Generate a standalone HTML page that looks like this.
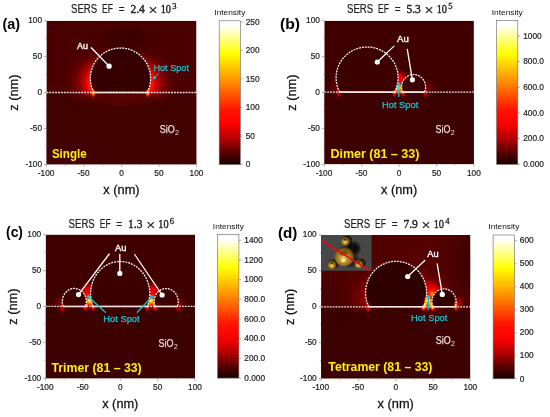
<!DOCTYPE html>
<html><head><meta charset="utf-8"><title>SERS EF FDTD</title>
<style>
html,body{margin:0;padding:0;background:#fff;}
body{width:550px;height:417px;overflow:hidden;position:relative;font-family:"Liberation Sans", "DejaVu Sans", sans-serif;}
svg{position:absolute;left:0;top:0;display:block;filter:blur(0.35px);}
text{font-family:"Liberation Sans", "DejaVu Sans", sans-serif;}
.tk{font-size:8.3px;fill:#222;stroke:#222;stroke-width:0.2px;}
.ax{font-size:13px;fill:#111;stroke:#111;stroke-width:0.28px;}
.pl{font-size:14.8px;font-weight:bold;fill:#000;}
.tt{font-size:12px;fill:#222;stroke:#222;stroke-width:0.22px;}
.tm{font-family:"Liberation Serif", "DejaVu Serif", serif;font-size:11.8px;fill:#222;stroke:#222;stroke-width:0.4px;}
.ts{font-family:"Liberation Serif", "DejaVu Serif", serif;font-size:7.8px;fill:#222;stroke:#222;stroke-width:0.3px;}
.in{font-size:8.1px;fill:#111;}
.au{font-size:9.3px;fill:#fff;stroke:#fff;stroke-width:0.35px;}
.si{font-size:10px;fill:#f0dada;stroke:#f0dada;stroke-width:0.25px;}
.s2{font-size:6.4px;fill:#f0dada;}
.hs{font-size:9.2px;fill:#14c4d0;stroke:#14c4d0;stroke-width:0.25px;}
.nm{font-size:12px;font-weight:bold;fill:#ffee00;}
</style></head><body>
<svg width="550" height="417" viewBox="0 0 550 417">
<defs>
<linearGradient id="cbg" x1="0" y1="1" x2="0" y2="0">
<stop offset="0" stop-color="#1a0000"/>
<stop offset="0.08" stop-color="#560000"/>
<stop offset="0.18" stop-color="#b40000"/>
<stop offset="0.28" stop-color="#fa0000"/>
<stop offset="0.38" stop-color="#ff1400"/>
<stop offset="0.55" stop-color="#ff7e00"/>
<stop offset="0.77" stop-color="#ffff00"/>
<stop offset="0.97" stop-color="#ffffff"/>
<stop offset="1" stop-color="#ffffff"/>
</linearGradient>
<radialGradient id="gR"><stop offset="0" stop-color="#ff2000" stop-opacity="0.95"/><stop offset="0.35" stop-color="#e00000" stop-opacity="0.6"/><stop offset="1" stop-color="#a00000" stop-opacity="0"/></radialGradient>
<radialGradient id="gR2"><stop offset="0" stop-color="#ff0800" stop-opacity="1"/><stop offset="0.5" stop-color="#f80000" stop-opacity="0.88"/><stop offset="1" stop-color="#c00000" stop-opacity="0"/></radialGradient>
<radialGradient id="gY"><stop offset="0" stop-color="#ffe000" stop-opacity="1"/><stop offset="0.4" stop-color="#ff6000" stop-opacity="0.9"/><stop offset="1" stop-color="#ff0000" stop-opacity="0"/></radialGradient>
<radialGradient id="gYY"><stop offset="0" stop-color="#ffff30" stop-opacity="1"/><stop offset="0.55" stop-color="#ffc000" stop-opacity="1"/><stop offset="1" stop-color="#ff4000" stop-opacity="0"/></radialGradient>
<radialGradient id="gD"><stop offset="0" stop-color="#7a0000" stop-opacity="0.9"/><stop offset="1" stop-color="#7a0000" stop-opacity="0"/></radialGradient>
<radialGradient id="gold" cx="0.45" cy="0.62" r="0.62"><stop offset="0" stop-color="#ffe68a"/><stop offset="0.3" stop-color="#c89a32"/><stop offset="0.7" stop-color="#7a5510"/><stop offset="1" stop-color="#2a1c04"/></radialGradient>
<radialGradient id="gold2" cx="0.46" cy="0.6" r="0.6"><stop offset="0" stop-color="#f6d878"/><stop offset="0.35" stop-color="#c09430"/><stop offset="0.75" stop-color="#865e14"/><stop offset="1" stop-color="#302006"/></radialGradient>
<filter id="b1" x="-50%" y="-50%" width="200%" height="200%"><feGaussianBlur stdDeviation="0.6"/></filter>
<filter id="b2" x="-50%" y="-50%" width="200%" height="200%"><feGaussianBlur stdDeviation="1.2"/></filter>
<filter id="b3" x="-50%" y="-50%" width="200%" height="200%"><feGaussianBlur stdDeviation="2.6"/></filter>
<filter id="b6" x="-50%" y="-50%" width="200%" height="200%"><feGaussianBlur stdDeviation="6"/></filter>
<filter id="b4" x="-50%" y="-50%" width="200%" height="200%"><feGaussianBlur stdDeviation="4"/></filter>
</defs>

<clipPath id="cpa"><rect x="46.40" y="20.70" width="150.10" height="143.80"/></clipPath>
<g clip-path="url(#cpa)">
<rect x="46.4" y="20.7" width="150.1" height="143.8" fill="#4b0000"/>
<rect x="46.4" y="92.5" width="150.1" height="72.0" fill="#420202"/>
<linearGradient id="fa" gradientUnits="userSpaceOnUse" x1="0" y1="48.02" x2="0" y2="106.98"><stop offset="0" stop-color="#000"/><stop offset="0.14" stop-color="#1c1c1c"/><stop offset="0.42" stop-color="#c4c4c4"/><stop offset="0.6" stop-color="#fff"/><stop offset="0.75" stop-color="#fff"/><stop offset="0.83" stop-color="#888"/><stop offset="1" stop-color="#000"/></linearGradient>
<mask id="ma" maskUnits="userSpaceOnUse" x="46.4" y="20.7" width="150.1" height="143.8"><rect x="46.4" y="20.7" width="150.1" height="143.8" fill="url(#fa)"/></mask>
<g mask="url(#ma)">
<path d="M93.83,92.50 A30.10,30.40 0 1 1 147.17,92.50" fill="none" stroke="#8a0000" stroke-width="34" filter="url(#b6)" opacity="1"/>
<path d="M93.83,92.50 A30.10,30.40 0 1 1 147.17,92.50" fill="none" stroke="#d40000" stroke-width="18" filter="url(#b3)" opacity="1"/>
<path d="M93.83,92.50 A30.10,30.40 0 1 1 147.17,92.50" fill="none" stroke="#ff1800" stroke-width="7.5" filter="url(#b2)"/>
</g>
<ellipse cx="121.45" cy="99.07" rx="46.00" ry="9.00" fill="url(#gD)" opacity="0.5" />
<path d="M93.83,92.50 A30.10,30.40 0 1 1 147.17,92.50 Z" fill="#360000"/>
<ellipse cx="125.95" cy="37.96" rx="22.00" ry="11.00" fill="#360000" opacity="0.7" filter="url(#b4)"/>
<ellipse cx="93.23" cy="93.10" rx="2.80" ry="5.00" fill="url(#gY)" opacity="1" />
<ellipse cx="147.77" cy="93.10" rx="2.80" ry="5.00" fill="url(#gY)" opacity="1" />
<line x1="46.40" y1="92.50" x2="196.50" y2="92.50" stroke="#f6e4e4" stroke-width="1.3" stroke-dasharray="1.9 1.0"/>
<line x1="93.83" y1="92.50" x2="147.17" y2="92.50" stroke="#f6e4e4" stroke-width="1.55"/>
<path d="M93.83,92.50 A30.10,30.40 0 1 1 147.17,92.50" fill="none" stroke="#fff" stroke-width="1.25" stroke-dasharray="1.9 1.0"/>
</g>
<line x1="109.10" y1="66.20" x2="91.30" y2="47.80" stroke="#fff" stroke-width="1.3" stroke-linecap="round"/>
<circle cx="109.10" cy="66.20" r="2.6" fill="#fff"/>
<text class="au" x="77.00" y="49.00" textLength="11.00" lengthAdjust="spacingAndGlyphs" >Au</text>
<text class="hs" x="153.40" y="70.80" textLength="35.60" lengthAdjust="spacingAndGlyphs" >Hot Spot</text>
<line x1="158.80" y1="73.60" x2="154.80" y2="77.40" stroke="#14c4d0" stroke-width="1.0" stroke-linecap="round"/>
<circle cx="154.40" cy="77.80" r="1.5" fill="#14c4d0"/>
<text><tspan class="si" x="159.80" y="132.50" textLength="14.9" lengthAdjust="spacingAndGlyphs">SiO</tspan><tspan class="s2" x="175.10" y="134.60" textLength="4.0" lengthAdjust="spacingAndGlyphs">2</tspan></text>
<text class="nm" x="51.90" y="158.30" textLength="34.70" lengthAdjust="spacingAndGlyphs" >Single</text>
<line x1="46.40" y1="164.50" x2="46.40" y2="166.80" stroke="#7a8796" stroke-width="0.7"/>
<text class="tk" x="46.10" y="176.20" text-anchor="middle" >-100</text>
<line x1="44.10" y1="164.50" x2="46.40" y2="164.50" stroke="#7a8796" stroke-width="0.7"/>
<text class="tk" x="42.00" y="166.70" text-anchor="end" >-100</text>
<line x1="83.92" y1="164.50" x2="83.92" y2="166.80" stroke="#7a8796" stroke-width="0.7"/>
<text class="tk" x="83.62" y="176.20" text-anchor="middle" >-50</text>
<line x1="44.10" y1="128.55" x2="46.40" y2="128.55" stroke="#7a8796" stroke-width="0.7"/>
<text class="tk" x="42.00" y="130.75" text-anchor="end" >-50</text>
<line x1="121.45" y1="164.50" x2="121.45" y2="166.80" stroke="#7a8796" stroke-width="0.7"/>
<text class="tk" x="121.45" y="176.20" text-anchor="middle" >0</text>
<line x1="44.10" y1="92.60" x2="46.40" y2="92.60" stroke="#7a8796" stroke-width="0.7"/>
<text class="tk" x="42.00" y="94.80" text-anchor="end" >0</text>
<line x1="158.97" y1="164.50" x2="158.97" y2="166.80" stroke="#7a8796" stroke-width="0.7"/>
<text class="tk" x="158.97" y="176.20" text-anchor="middle" >50</text>
<line x1="44.10" y1="56.65" x2="46.40" y2="56.65" stroke="#7a8796" stroke-width="0.7"/>
<text class="tk" x="42.00" y="58.85" text-anchor="end" >50</text>
<line x1="196.50" y1="164.50" x2="196.50" y2="166.80" stroke="#7a8796" stroke-width="0.7"/>
<text class="tk" x="196.50" y="176.20" text-anchor="middle" >100</text>
<line x1="44.10" y1="20.70" x2="46.40" y2="20.70" stroke="#7a8796" stroke-width="0.7"/>
<text class="tk" x="42.00" y="22.90" text-anchor="end" >100</text>
<line x1="65.16" y1="164.50" x2="65.16" y2="165.80" stroke="#7a8796" stroke-width="0.6"/>
<line x1="45.10" y1="146.53" x2="46.40" y2="146.53" stroke="#7a8796" stroke-width="0.6"/>
<line x1="102.69" y1="164.50" x2="102.69" y2="165.80" stroke="#7a8796" stroke-width="0.6"/>
<line x1="45.10" y1="110.57" x2="46.40" y2="110.57" stroke="#7a8796" stroke-width="0.6"/>
<line x1="140.21" y1="164.50" x2="140.21" y2="165.80" stroke="#7a8796" stroke-width="0.6"/>
<line x1="45.10" y1="74.62" x2="46.40" y2="74.62" stroke="#7a8796" stroke-width="0.6"/>
<line x1="177.74" y1="164.50" x2="177.74" y2="165.80" stroke="#7a8796" stroke-width="0.6"/>
<line x1="45.10" y1="38.67" x2="46.40" y2="38.67" stroke="#7a8796" stroke-width="0.6"/>
<text class="ax" x="103.35" y="193.70" textLength="36.20" lengthAdjust="spacingAndGlyphs" >x (nm)</text>
<text class="ax" transform="translate(18.40,110.80) rotate(-90)" textLength="36.2" lengthAdjust="spacingAndGlyphs">z (nm)</text>
<text class="pl" x="2.40" y="29.00" textLength="17.60" lengthAdjust="spacingAndGlyphs" >(a)</text>
<text><tspan class="tt" x="71.00" y="13.10" textLength="26.20" lengthAdjust="spacingAndGlyphs" >SERS</tspan> <tspan class="tt" x="102.10" y="13.10" textLength="10.90" lengthAdjust="spacingAndGlyphs" >EF</tspan> <tspan class="tt" x="118.70" y="13.10" textLength="5.80" lengthAdjust="spacingAndGlyphs" >=</tspan> <tspan class="tm" x="130.40" y="13.10" textLength="14.40" lengthAdjust="spacingAndGlyphs" >2.4</tspan> <tspan class="tm" x="148.60" y="14.70" textLength="9.00" lengthAdjust="spacingAndGlyphs" style="font-size:15.5px">×</tspan> <tspan class="tm" x="160.70" y="13.10" textLength="10.30" lengthAdjust="spacingAndGlyphs" >10</tspan><tspan class="ts" x="172.20" y="8.60" textLength="4.30" lengthAdjust="spacingAndGlyphs" >3</tspan></text>
<rect x="219.20" y="20.80" width="21.10" height="143.70" fill="url(#cbg)" stroke="#666" stroke-width="0.6"/>
<text class="in" x="214.35" y="14.90" textLength="31.00" lengthAdjust="spacingAndGlyphs" >Intensity</text>
<line x1="240.30" y1="21.94" x2="242.60" y2="21.94" stroke="#7a8796" stroke-width="0.7"/>
<text class="tk" x="245.70" y="24.64" >250</text>
<line x1="240.30" y1="50.45" x2="242.60" y2="50.45" stroke="#7a8796" stroke-width="0.7"/>
<text class="tk" x="245.70" y="53.15" >200</text>
<line x1="240.30" y1="78.96" x2="242.60" y2="78.96" stroke="#7a8796" stroke-width="0.7"/>
<text class="tk" x="245.70" y="81.66" >150</text>
<line x1="240.30" y1="107.48" x2="242.60" y2="107.48" stroke="#7a8796" stroke-width="0.7"/>
<text class="tk" x="245.70" y="110.18" >100</text>
<line x1="240.30" y1="135.99" x2="242.60" y2="135.99" stroke="#7a8796" stroke-width="0.7"/>
<text class="tk" x="245.70" y="138.69" >50</text>
<line x1="240.30" y1="164.50" x2="242.60" y2="164.50" stroke="#7a8796" stroke-width="0.7"/>
<text class="tk" x="245.70" y="167.20" >0</text>
<clipPath id="cpb"><rect x="324.30" y="20.70" width="149.60" height="143.60"/></clipPath>
<g clip-path="url(#cpb)">
<rect x="324.3" y="20.7" width="149.59999999999997" height="143.60000000000002" fill="#400000"/>
<rect x="324.3" y="92.1" width="149.59999999999997" height="72.20000000000002" fill="#3c0202"/>
<ellipse cx="338.84" cy="91.30" rx="3.20" ry="7.00" fill="url(#gR2)" opacity="0.8" />
<ellipse cx="425.29" cy="91.30" rx="3.20" ry="7.00" fill="url(#gR2)" opacity="0.8" />
<ellipse cx="428.49" cy="87.10" rx="8.00" ry="10.00" fill="url(#gD)" opacity="0.8" />
<ellipse cx="335.64" cy="87.10" rx="8.00" ry="10.00" fill="url(#gD)" opacity="0.6" />
<ellipse cx="399.83" cy="82.61" rx="9.00" ry="13.93" fill="url(#gR2)" opacity="1" />
<ellipse cx="398.83" cy="87.60" rx="6.50" ry="8.00" fill="url(#gR2)" opacity="1" />
<path d="M339.64,92.10 A31.00,30.80 0 1 1 394.56,92.10 Z" fill="#3c0000"/>
<path d="M402.71,92.10 A12.00,12.40 0 1 1 424.49,92.10 Z" fill="#3c0000"/>
<ellipse cx="394.26" cy="93.30" rx="2.80" ry="4.00" fill="url(#gR2)" opacity="0.85" />
<ellipse cx="403.01" cy="93.30" rx="2.80" ry="4.00" fill="url(#gR2)" opacity="0.85" />
<ellipse cx="398.83" cy="88.00" rx="4.00" ry="6.20" fill="url(#gY)" opacity="1" />
<path d="M398.83,87.00 L394.76,92.90 M398.83,87.00 L402.51,92.90" stroke="#ff7000" stroke-width="2.0" fill="none" stroke-linecap="round" filter="url(#b1)"/>
<ellipse cx="398.83" cy="87.80" rx="3.00" ry="3.40" fill="url(#gYY)" opacity="1" />
<line x1="324.30" y1="92.10" x2="473.90" y2="92.10" stroke="#f6e4e4" stroke-width="1.3" stroke-dasharray="1.9 1.0"/>
<line x1="339.64" y1="92.10" x2="394.56" y2="92.10" stroke="#f6e4e4" stroke-width="1.55"/>
<line x1="402.71" y1="92.10" x2="424.49" y2="92.10" stroke="#f6e4e4" stroke-width="1.55"/>
<path d="M339.64,92.10 A31.00,30.80 0 1 1 394.56,92.10" fill="none" stroke="#fff" stroke-width="1.25" stroke-dasharray="1.9 1.0"/>
<path d="M402.71,92.10 A12.00,12.40 0 1 1 424.49,92.10" fill="none" stroke="#fff" stroke-width="1.25" stroke-dasharray="1.9 1.0"/>
</g>
<line x1="377.30" y1="62.00" x2="394.00" y2="46.10" stroke="#fff" stroke-width="1.3" stroke-linecap="round"/>
<circle cx="377.30" cy="62.00" r="2.6" fill="#fff"/>
<line x1="412.40" y1="79.80" x2="407.30" y2="49.30" stroke="#fff" stroke-width="1.3" stroke-linecap="round"/>
<circle cx="412.40" cy="79.80" r="2.6" fill="#fff"/>
<text class="au" x="397.00" y="42.00" textLength="11.80" lengthAdjust="spacingAndGlyphs" >Au</text>
<line x1="398.80" y1="84.40" x2="398.80" y2="96.40" stroke="#14c4d0" stroke-width="1.3" stroke-linecap="round"/>
<circle cx="398.80" cy="84.40" r="1.8" fill="#14c4d0"/>
<text class="hs" x="382.00" y="107.50" textLength="36.30" lengthAdjust="spacingAndGlyphs" >Hot Spot</text>
<text><tspan class="si" x="435.50" y="132.50" textLength="14.9" lengthAdjust="spacingAndGlyphs">SiO</tspan><tspan class="s2" x="450.80" y="134.60" textLength="4.0" lengthAdjust="spacingAndGlyphs">2</tspan></text>
<text class="nm" x="330.40" y="158.00" textLength="89.00" lengthAdjust="spacingAndGlyphs" >Dimer (81 – 33)</text>
<line x1="324.30" y1="164.30" x2="324.30" y2="166.60" stroke="#7a8796" stroke-width="0.7"/>
<text class="tk" x="324.00" y="176.00" text-anchor="middle" >-100</text>
<line x1="322.00" y1="164.30" x2="324.30" y2="164.30" stroke="#7a8796" stroke-width="0.7"/>
<text class="tk" x="319.90" y="166.50" text-anchor="end" >-100</text>
<line x1="361.70" y1="164.30" x2="361.70" y2="166.60" stroke="#7a8796" stroke-width="0.7"/>
<text class="tk" x="361.40" y="176.00" text-anchor="middle" >-50</text>
<line x1="322.00" y1="128.40" x2="324.30" y2="128.40" stroke="#7a8796" stroke-width="0.7"/>
<text class="tk" x="319.90" y="130.60" text-anchor="end" >-50</text>
<line x1="399.10" y1="164.30" x2="399.10" y2="166.60" stroke="#7a8796" stroke-width="0.7"/>
<text class="tk" x="399.10" y="176.00" text-anchor="middle" >0</text>
<line x1="322.00" y1="92.50" x2="324.30" y2="92.50" stroke="#7a8796" stroke-width="0.7"/>
<text class="tk" x="319.90" y="94.70" text-anchor="end" >0</text>
<line x1="436.50" y1="164.30" x2="436.50" y2="166.60" stroke="#7a8796" stroke-width="0.7"/>
<text class="tk" x="436.50" y="176.00" text-anchor="middle" >50</text>
<line x1="322.00" y1="56.60" x2="324.30" y2="56.60" stroke="#7a8796" stroke-width="0.7"/>
<text class="tk" x="319.90" y="58.80" text-anchor="end" >50</text>
<line x1="473.90" y1="164.30" x2="473.90" y2="166.60" stroke="#7a8796" stroke-width="0.7"/>
<text class="tk" x="473.90" y="176.00" text-anchor="middle" >100</text>
<line x1="322.00" y1="20.70" x2="324.30" y2="20.70" stroke="#7a8796" stroke-width="0.7"/>
<text class="tk" x="319.90" y="22.90" text-anchor="end" >100</text>
<line x1="343.00" y1="164.30" x2="343.00" y2="165.60" stroke="#7a8796" stroke-width="0.6"/>
<line x1="323.00" y1="146.35" x2="324.30" y2="146.35" stroke="#7a8796" stroke-width="0.6"/>
<line x1="380.40" y1="164.30" x2="380.40" y2="165.60" stroke="#7a8796" stroke-width="0.6"/>
<line x1="323.00" y1="110.45" x2="324.30" y2="110.45" stroke="#7a8796" stroke-width="0.6"/>
<line x1="417.80" y1="164.30" x2="417.80" y2="165.60" stroke="#7a8796" stroke-width="0.6"/>
<line x1="323.00" y1="74.55" x2="324.30" y2="74.55" stroke="#7a8796" stroke-width="0.6"/>
<line x1="455.20" y1="164.30" x2="455.20" y2="165.60" stroke="#7a8796" stroke-width="0.6"/>
<line x1="323.00" y1="38.65" x2="324.30" y2="38.65" stroke="#7a8796" stroke-width="0.6"/>
<text class="ax" x="381.00" y="193.50" textLength="36.20" lengthAdjust="spacingAndGlyphs" >x (nm)</text>
<text class="ax" transform="translate(295.90,110.70) rotate(-90)" textLength="36.2" lengthAdjust="spacingAndGlyphs">z (nm)</text>
<text class="pl" x="280.00" y="28.60" textLength="20.00" lengthAdjust="spacingAndGlyphs" >(b)</text>
<text><tspan class="tt" x="347.00" y="13.40" textLength="26.20" lengthAdjust="spacingAndGlyphs" >SERS</tspan> <tspan class="tt" x="378.10" y="13.40" textLength="10.90" lengthAdjust="spacingAndGlyphs" >EF</tspan> <tspan class="tt" x="394.70" y="13.40" textLength="5.80" lengthAdjust="spacingAndGlyphs" >=</tspan> <tspan class="tm" x="406.40" y="13.40" textLength="14.40" lengthAdjust="spacingAndGlyphs" >5.3</tspan> <tspan class="tm" x="424.60" y="15.00" textLength="9.00" lengthAdjust="spacingAndGlyphs" style="font-size:15.5px">×</tspan> <tspan class="tm" x="436.70" y="13.40" textLength="10.30" lengthAdjust="spacingAndGlyphs" >10</tspan><tspan class="ts" x="448.20" y="8.90" textLength="4.30" lengthAdjust="spacingAndGlyphs" >5</tspan></text>
<rect x="496.60" y="20.50" width="21.20" height="143.80" fill="url(#cbg)" stroke="#666" stroke-width="0.6"/>
<text class="in" x="491.80" y="14.60" textLength="31.00" lengthAdjust="spacingAndGlyphs" >Intensity</text>
<line x1="517.80" y1="35.91" x2="520.10" y2="35.91" stroke="#7a8796" stroke-width="0.7"/>
<text class="tk" x="523.20" y="38.61" >1000</text>
<line x1="517.80" y1="61.59" x2="520.10" y2="61.59" stroke="#7a8796" stroke-width="0.7"/>
<text class="tk" x="523.20" y="64.29" >800.0</text>
<line x1="517.80" y1="87.26" x2="520.10" y2="87.26" stroke="#7a8796" stroke-width="0.7"/>
<text class="tk" x="523.20" y="89.96" >600.0</text>
<line x1="517.80" y1="112.94" x2="520.10" y2="112.94" stroke="#7a8796" stroke-width="0.7"/>
<text class="tk" x="523.20" y="115.64" >400.0</text>
<line x1="517.80" y1="138.62" x2="520.10" y2="138.62" stroke="#7a8796" stroke-width="0.7"/>
<text class="tk" x="523.20" y="141.32" >200.0</text>
<line x1="517.80" y1="164.30" x2="520.10" y2="164.30" stroke="#7a8796" stroke-width="0.7"/>
<text class="tk" x="523.20" y="167.00" >0.000</text>
<clipPath id="cpc"><rect x="45.60" y="234.60" width="149.40" height="143.80"/></clipPath>
<g clip-path="url(#cpc)">
<rect x="45.6" y="234.6" width="149.4" height="143.79999999999998" fill="#400000"/>
<rect x="45.6" y="306.4" width="149.4" height="72.0" fill="#3c0202"/>
<ellipse cx="62.22" cy="305.40" rx="3.80" ry="8.50" fill="url(#gR2)" opacity="0.75" />
<ellipse cx="178.37" cy="305.40" rx="3.80" ry="8.00" fill="url(#gR2)" opacity="0.75" />
<ellipse cx="59.22" cy="303.40" rx="7.00" ry="9.00" fill="url(#gD)" opacity="0.7" />
<ellipse cx="181.37" cy="303.40" rx="7.00" ry="9.00" fill="url(#gD)" opacity="0.7" />
<ellipse cx="87.74" cy="295.87" rx="9.00" ry="15.44" fill="url(#gR2)" opacity="1" />
<ellipse cx="89.24" cy="301.90" rx="6.50" ry="8.00" fill="url(#gR2)" opacity="1" />
<ellipse cx="152.72" cy="295.87" rx="9.00" ry="15.44" fill="url(#gR2)" opacity="1" />
<ellipse cx="151.22" cy="301.90" rx="6.50" ry="8.00" fill="url(#gR2)" opacity="1" />
<path d="M93.00,306.40 A29.60,32.20 0 1 1 147.40,306.40 Z" fill="#3c0000"/>
<path d="M63.22,306.40 A12.00,13.10 0 1 1 85.48,306.40 Z" fill="#3c0000"/>
<path d="M155.03,306.40 A12.00,13.10 0 1 1 177.37,306.40 Z" fill="#3c0000"/>
<ellipse cx="85.18" cy="307.60" rx="2.80" ry="4.00" fill="url(#gR2)" opacity="0.85" />
<ellipse cx="93.30" cy="307.60" rx="2.80" ry="4.00" fill="url(#gR2)" opacity="0.85" />
<ellipse cx="89.24" cy="300.90" rx="4.00" ry="6.20" fill="url(#gY)" opacity="1" />
<path d="M89.24,299.90 L85.68,307.20 M89.24,299.90 L92.80,307.20" stroke="#ff7000" stroke-width="2.0" fill="none" stroke-linecap="round" filter="url(#b1)"/>
<ellipse cx="89.24" cy="300.70" rx="3.00" ry="3.40" fill="url(#gYY)" opacity="1" />
<ellipse cx="147.10" cy="307.60" rx="2.80" ry="4.00" fill="url(#gR2)" opacity="0.85" />
<ellipse cx="155.33" cy="307.60" rx="2.80" ry="4.00" fill="url(#gR2)" opacity="0.85" />
<ellipse cx="151.22" cy="300.90" rx="4.00" ry="6.20" fill="url(#gY)" opacity="1" />
<path d="M151.22,299.90 L147.60,307.20 M151.22,299.90 L154.83,307.20" stroke="#ff7000" stroke-width="2.0" fill="none" stroke-linecap="round" filter="url(#b1)"/>
<ellipse cx="151.22" cy="300.70" rx="3.00" ry="3.40" fill="url(#gYY)" opacity="1" />
<line x1="45.60" y1="306.40" x2="195.00" y2="306.40" stroke="#f6e4e4" stroke-width="1.3" stroke-dasharray="1.9 1.0"/>
<line x1="93.00" y1="306.40" x2="147.40" y2="306.40" stroke="#f6e4e4" stroke-width="1.55"/>
<line x1="63.22" y1="306.40" x2="85.48" y2="306.40" stroke="#f6e4e4" stroke-width="1.55"/>
<line x1="155.03" y1="306.40" x2="177.37" y2="306.40" stroke="#f6e4e4" stroke-width="1.55"/>
<path d="M93.00,306.40 A29.60,32.20 0 1 1 147.40,306.40" fill="none" stroke="#fff" stroke-width="1.25" stroke-dasharray="1.9 1.0"/>
<path d="M63.22,306.40 A12.00,13.10 0 1 1 85.48,306.40" fill="none" stroke="#fff" stroke-width="1.25" stroke-dasharray="1.9 1.0"/>
<path d="M155.03,306.40 A12.00,13.10 0 1 1 177.37,306.40" fill="none" stroke="#fff" stroke-width="1.25" stroke-dasharray="1.9 1.0"/>
</g>
<line x1="78.50" y1="294.60" x2="109.20" y2="254.00" stroke="#fff" stroke-width="1.3" stroke-linecap="round"/>
<circle cx="78.50" cy="294.60" r="2.6" fill="#fff"/>
<line x1="162.10" y1="295.00" x2="134.70" y2="254.50" stroke="#fff" stroke-width="1.3" stroke-linecap="round"/>
<circle cx="162.10" cy="295.00" r="2.6" fill="#fff"/>
<line x1="119.80" y1="273.40" x2="119.80" y2="254.50" stroke="#fff" stroke-width="1.3" stroke-linecap="round"/>
<circle cx="119.80" cy="273.40" r="2.6" fill="#fff"/>
<text class="au" x="115.00" y="250.50" textLength="11.40" lengthAdjust="spacingAndGlyphs" >Au</text>
<line x1="88.70" y1="296.90" x2="105.30" y2="312.20" stroke="#14c4d0" stroke-width="1.3" stroke-linecap="round"/>
<circle cx="88.70" cy="296.90" r="1.8" fill="#14c4d0"/>
<line x1="151.90" y1="296.90" x2="137.30" y2="312.20" stroke="#14c4d0" stroke-width="1.3" stroke-linecap="round"/>
<circle cx="151.90" cy="296.90" r="1.8" fill="#14c4d0"/>
<text class="hs" x="103.20" y="322.40" textLength="36.50" lengthAdjust="spacingAndGlyphs" >Hot Spot</text>
<text><tspan class="si" x="158.50" y="347.30" textLength="14.9" lengthAdjust="spacingAndGlyphs">SiO</tspan><tspan class="s2" x="173.80" y="349.40" textLength="4.0" lengthAdjust="spacingAndGlyphs">2</tspan></text>
<text class="nm" x="51.50" y="371.80" textLength="90.20" lengthAdjust="spacingAndGlyphs" >Trimer (81 – 33)</text>
<line x1="45.60" y1="378.40" x2="45.60" y2="380.70" stroke="#7a8796" stroke-width="0.7"/>
<text class="tk" x="45.30" y="390.10" text-anchor="middle" >-100</text>
<line x1="43.30" y1="378.40" x2="45.60" y2="378.40" stroke="#7a8796" stroke-width="0.7"/>
<text class="tk" x="41.20" y="380.60" text-anchor="end" >-100</text>
<line x1="82.95" y1="378.40" x2="82.95" y2="380.70" stroke="#7a8796" stroke-width="0.7"/>
<text class="tk" x="82.65" y="390.10" text-anchor="middle" >-50</text>
<line x1="43.30" y1="342.45" x2="45.60" y2="342.45" stroke="#7a8796" stroke-width="0.7"/>
<text class="tk" x="41.20" y="344.65" text-anchor="end" >-50</text>
<line x1="120.30" y1="378.40" x2="120.30" y2="380.70" stroke="#7a8796" stroke-width="0.7"/>
<text class="tk" x="120.30" y="390.10" text-anchor="middle" >0</text>
<line x1="43.30" y1="306.50" x2="45.60" y2="306.50" stroke="#7a8796" stroke-width="0.7"/>
<text class="tk" x="41.20" y="308.70" text-anchor="end" >0</text>
<line x1="157.65" y1="378.40" x2="157.65" y2="380.70" stroke="#7a8796" stroke-width="0.7"/>
<text class="tk" x="157.65" y="390.10" text-anchor="middle" >50</text>
<line x1="43.30" y1="270.55" x2="45.60" y2="270.55" stroke="#7a8796" stroke-width="0.7"/>
<text class="tk" x="41.20" y="272.75" text-anchor="end" >50</text>
<line x1="195.00" y1="378.40" x2="195.00" y2="380.70" stroke="#7a8796" stroke-width="0.7"/>
<text class="tk" x="195.00" y="390.10" text-anchor="middle" >100</text>
<line x1="43.30" y1="234.60" x2="45.60" y2="234.60" stroke="#7a8796" stroke-width="0.7"/>
<text class="tk" x="41.20" y="236.80" text-anchor="end" >100</text>
<line x1="64.28" y1="378.40" x2="64.28" y2="379.70" stroke="#7a8796" stroke-width="0.6"/>
<line x1="44.30" y1="360.42" x2="45.60" y2="360.42" stroke="#7a8796" stroke-width="0.6"/>
<line x1="101.62" y1="378.40" x2="101.62" y2="379.70" stroke="#7a8796" stroke-width="0.6"/>
<line x1="44.30" y1="324.47" x2="45.60" y2="324.47" stroke="#7a8796" stroke-width="0.6"/>
<line x1="138.97" y1="378.40" x2="138.97" y2="379.70" stroke="#7a8796" stroke-width="0.6"/>
<line x1="44.30" y1="288.52" x2="45.60" y2="288.52" stroke="#7a8796" stroke-width="0.6"/>
<line x1="176.32" y1="378.40" x2="176.32" y2="379.70" stroke="#7a8796" stroke-width="0.6"/>
<line x1="44.30" y1="252.57" x2="45.60" y2="252.57" stroke="#7a8796" stroke-width="0.6"/>
<text class="ax" x="102.20" y="407.60" textLength="36.20" lengthAdjust="spacingAndGlyphs" >x (nm)</text>
<text class="ax" transform="translate(17.40,324.70) rotate(-90)" textLength="36.2" lengthAdjust="spacingAndGlyphs">z (nm)</text>
<text class="pl" x="6.00" y="237.00" textLength="17.00" lengthAdjust="spacingAndGlyphs" >(c)</text>
<text><tspan class="tt" x="68.60" y="228.40" textLength="26.20" lengthAdjust="spacingAndGlyphs" >SERS</tspan> <tspan class="tt" x="99.70" y="228.40" textLength="10.90" lengthAdjust="spacingAndGlyphs" >EF</tspan> <tspan class="tt" x="116.30" y="228.40" textLength="5.80" lengthAdjust="spacingAndGlyphs" >=</tspan> <tspan class="tm" x="128.00" y="228.40" textLength="14.40" lengthAdjust="spacingAndGlyphs" >1.3</tspan> <tspan class="tm" x="146.20" y="230.00" textLength="9.00" lengthAdjust="spacingAndGlyphs" style="font-size:15.5px">×</tspan> <tspan class="tm" x="158.30" y="228.40" textLength="10.30" lengthAdjust="spacingAndGlyphs" >10</tspan><tspan class="ts" x="169.80" y="223.90" textLength="4.30" lengthAdjust="spacingAndGlyphs" >6</tspan></text>
<rect x="217.60" y="234.60" width="21.30" height="143.50" fill="url(#cbg)" stroke="#666" stroke-width="0.6"/>
<text class="in" x="212.85" y="228.70" textLength="31.00" lengthAdjust="spacingAndGlyphs" >Intensity</text>
<line x1="238.90" y1="240.31" x2="241.20" y2="240.31" stroke="#7a8796" stroke-width="0.7"/>
<text class="tk" x="244.30" y="243.01" >1400</text>
<line x1="238.90" y1="259.99" x2="241.20" y2="259.99" stroke="#7a8796" stroke-width="0.7"/>
<text class="tk" x="244.30" y="262.69" >1200</text>
<line x1="238.90" y1="279.68" x2="241.20" y2="279.68" stroke="#7a8796" stroke-width="0.7"/>
<text class="tk" x="244.30" y="282.38" >1000</text>
<line x1="238.90" y1="299.36" x2="241.20" y2="299.36" stroke="#7a8796" stroke-width="0.7"/>
<text class="tk" x="244.30" y="302.06" >800.0</text>
<line x1="238.90" y1="319.05" x2="241.20" y2="319.05" stroke="#7a8796" stroke-width="0.7"/>
<text class="tk" x="244.30" y="321.75" >600.0</text>
<line x1="238.90" y1="338.73" x2="241.20" y2="338.73" stroke="#7a8796" stroke-width="0.7"/>
<text class="tk" x="244.30" y="341.43" >400.0</text>
<line x1="238.90" y1="358.42" x2="241.20" y2="358.42" stroke="#7a8796" stroke-width="0.7"/>
<text class="tk" x="244.30" y="361.12" >200.0</text>
<line x1="238.90" y1="378.10" x2="241.20" y2="378.10" stroke="#7a8796" stroke-width="0.7"/>
<text class="tk" x="244.30" y="380.80" >0.000</text>
<clipPath id="cpd"><rect x="321.10" y="234.90" width="149.20" height="143.70"/></clipPath>
<g clip-path="url(#cpd)">
<rect x="321.1" y="234.9" width="149.2" height="143.70000000000002" fill="#4f0000"/>
<rect x="321.1" y="306.8" width="149.2" height="71.80000000000001" fill="#3c0101"/>
<linearGradient id="fd" gradientUnits="userSpaceOnUse" x1="0" y1="261.80" x2="0" y2="320.80"><stop offset="0" stop-color="#000"/><stop offset="0.2" stop-color="#2a2a2a"/><stop offset="0.5" stop-color="#c4c4c4"/><stop offset="0.7" stop-color="#fff"/><stop offset="0.78" stop-color="#fff"/><stop offset="0.86" stop-color="#777"/><stop offset="1" stop-color="#000"/></linearGradient>
<mask id="md" maskUnits="userSpaceOnUse" x="321.1" y="234.9" width="149.2" height="143.70000000000002"><rect x="321.1" y="234.9" width="149.2" height="143.70000000000002" fill="url(#fd)"/></mask>
<clipPath id="cdr"><rect x="396" y="234.9" width="80" height="143.70000000000002"/></clipPath>
<g mask="url(#md)">
<path d="M368.71,306.80 A30.50,31.60 0 1 1 423.49,306.80" fill="none" stroke="#780000" stroke-width="30" filter="url(#b6)" opacity="0.9"/>
<path d="M368.71,306.80 A30.50,31.60 0 1 1 423.49,306.80" fill="none" stroke="#a00000" stroke-width="9" filter="url(#b3)" opacity="0.8"/>
<g clip-path="url(#cdr)"><path d="M368.71,306.80 A30.50,31.60 0 1 1 423.49,306.80" fill="none" stroke="#e00000" stroke-width="12" filter="url(#b3)"/><path d="M368.71,306.80 A30.50,31.60 0 1 1 423.49,306.80" fill="none" stroke="#ff1000" stroke-width="5" filter="url(#b2)"/></g>
</g>
<ellipse cx="434.49" cy="292.38" rx="20.00" ry="24.00" fill="url(#gD)" opacity="0.8" />
<ellipse cx="418.00" cy="258.00" rx="22.00" ry="20.00" fill="#5c0000" opacity="0.55" filter="url(#b6)"/>
<ellipse cx="476.00" cy="262.00" rx="16.00" ry="34.00" fill="#380000" opacity="0.7" filter="url(#b6)"/>
<ellipse cx="330.00" cy="300.00" rx="14.00" ry="20.00" fill="#420000" opacity="0.5" filter="url(#b6)"/>
<ellipse cx="430.64" cy="295.19" rx="13.50" ry="17.03" fill="url(#gR2)" opacity="1" />
<ellipse cx="428.14" cy="302.30" rx="9.75" ry="8.00" fill="url(#gR2)" opacity="1" />
<ellipse cx="432.00" cy="294.00" rx="5.00" ry="6.00" fill="url(#gY)" opacity="0.8" />
<path d="M368.71,306.80 A30.50,31.60 0 1 1 423.49,306.80 Z" fill="#2e0000"/>
<path d="M432.78,306.80 A12.15,13.00 0 1 1 455.22,306.80 Z" fill="#300000"/>
<ellipse cx="368.21" cy="307.30" rx="2.60" ry="6.00" fill="url(#gR2)" opacity="0.9" />
<ellipse cx="456.02" cy="305.80" rx="3.00" ry="6.50" fill="url(#gY)" opacity="0.9" />
<ellipse cx="459.22" cy="302.80" rx="7.00" ry="10.00" fill="url(#gR)" opacity="0.6" />
<ellipse cx="423.19" cy="308.00" rx="2.80" ry="4.00" fill="url(#gR2)" opacity="0.85" />
<ellipse cx="433.08" cy="308.00" rx="2.80" ry="4.00" fill="url(#gR2)" opacity="0.85" />
<ellipse cx="428.14" cy="300.80" rx="5.20" ry="6.20" fill="url(#gY)" opacity="1" />
<path d="M428.14,299.80 L423.69,307.60 M428.14,299.80 L432.58,307.60" stroke="#ff5000" stroke-width="3.8" fill="none" stroke-linecap="round" filter="url(#b1)"/>
<path d="M428.14,299.80 L423.69,307.60 M428.14,299.80 L432.58,307.60" stroke="#ffd000" stroke-width="2.0" fill="none" stroke-linecap="round" filter="url(#b1)"/>
<ellipse cx="428.14" cy="300.60" rx="3.90" ry="3.40" fill="url(#gYY)" opacity="1" />
<line x1="321.10" y1="306.80" x2="470.30" y2="306.80" stroke="#f6e4e4" stroke-width="1.3" stroke-dasharray="1.9 1.0"/>
<line x1="368.71" y1="306.80" x2="423.49" y2="306.80" stroke="#f6e4e4" stroke-width="1.55"/>
<line x1="432.78" y1="306.80" x2="455.22" y2="306.80" stroke="#f6e4e4" stroke-width="1.55"/>
<path d="M368.71,306.80 A30.50,31.60 0 1 1 423.49,306.80" fill="none" stroke="#fff" stroke-width="1.25" stroke-dasharray="1.9 1.0"/>
<path d="M432.78,306.80 A12.15,13.00 0 1 1 455.22,306.80" fill="none" stroke="#fff" stroke-width="1.25" stroke-dasharray="1.9 1.0"/>
<rect x="321.1" y="234.9" width="50.5" height="35.900000000000006" fill="#474747"/>
<ellipse cx="352.80" cy="248.40" rx="7.00" ry="6.50" fill="#080808" opacity="1" filter="url(#b2)"/>
<ellipse cx="350.50" cy="259.50" rx="7.50" ry="7.50" fill="#1a1a1a" opacity="0.8" filter="url(#b2)"/>
<ellipse cx="347.70" cy="240.10" rx="4.50" ry="4.50" fill="#141414" opacity="0.85" filter="url(#b1)"/>
<ellipse cx="345.50" cy="240.90" rx="4.50" ry="4.50" fill="url(#gold)" opacity="1" />
<ellipse cx="345.20" cy="239.70" rx="1.60" ry="1.10" fill="#3a2806" opacity="0.75" filter="url(#b1)"/>
<ellipse cx="334.30" cy="263.70" rx="4.50" ry="4.50" fill="#141414" opacity="0.85" filter="url(#b1)"/>
<ellipse cx="332.10" cy="264.50" rx="4.50" ry="4.50" fill="url(#gold)" opacity="1" />
<ellipse cx="331.80" cy="263.30" rx="1.60" ry="1.10" fill="#3a2806" opacity="0.75" filter="url(#b1)"/>
<ellipse cx="361.20" cy="263.10" rx="4.50" ry="4.50" fill="#141414" opacity="0.85" filter="url(#b1)"/>
<ellipse cx="359.00" cy="263.90" rx="4.50" ry="4.50" fill="url(#gold)" opacity="1" />
<ellipse cx="358.70" cy="262.70" rx="1.60" ry="1.10" fill="#3a2806" opacity="0.75" filter="url(#b1)"/>
<ellipse cx="344.30" cy="256.40" rx="9.80" ry="9.80" fill="url(#gold2)" opacity="1" />
<ellipse cx="343.80" cy="253.00" rx="4.20" ry="2.60" fill="#5a3e0a" opacity="0.7" filter="url(#b1)"/>
<ellipse cx="343.20" cy="260.60" rx="2.40" ry="1.60" fill="#fff2b8" opacity="0.9" filter="url(#b1)"/>
<line x1="321.10" y1="240.40" x2="368.80" y2="270.20" stroke="#fa0014" stroke-width="1.45" stroke-linecap="round"/>
</g>
<line x1="407.70" y1="276.50" x2="424.80" y2="260.50" stroke="#fff" stroke-width="1.3" stroke-linecap="round"/>
<circle cx="407.70" cy="276.50" r="2.6" fill="#fff"/>
<line x1="442.30" y1="294.40" x2="437.20" y2="263.80" stroke="#fff" stroke-width="1.3" stroke-linecap="round"/>
<circle cx="442.30" cy="294.40" r="2.6" fill="#fff"/>
<text class="au" x="427.30" y="256.50" textLength="11.40" lengthAdjust="spacingAndGlyphs" >Au</text>
<line x1="428.40" y1="296.80" x2="428.40" y2="309.20" stroke="#14c4d0" stroke-width="1.3" stroke-linecap="round"/>
<circle cx="428.40" cy="296.80" r="1.8" fill="#14c4d0"/>
<text class="hs" x="411.00" y="320.80" textLength="36.40" lengthAdjust="spacingAndGlyphs" >Hot Spot</text>
<text><tspan class="si" x="435.70" y="344.00" textLength="14.9" lengthAdjust="spacingAndGlyphs">SiO</tspan><tspan class="s2" x="451.00" y="346.10" textLength="4.0" lengthAdjust="spacingAndGlyphs">2</tspan></text>
<text class="nm" x="328.30" y="370.70" textLength="104.10" lengthAdjust="spacingAndGlyphs" >Tetramer (81 – 33)</text>
<line x1="321.10" y1="378.60" x2="321.10" y2="380.90" stroke="#7a8796" stroke-width="0.7"/>
<text class="tk" x="320.80" y="390.30" text-anchor="middle" >-100</text>
<line x1="318.80" y1="378.60" x2="321.10" y2="378.60" stroke="#7a8796" stroke-width="0.7"/>
<text class="tk" x="316.70" y="380.80" text-anchor="end" >-100</text>
<line x1="358.40" y1="378.60" x2="358.40" y2="380.90" stroke="#7a8796" stroke-width="0.7"/>
<text class="tk" x="358.10" y="390.30" text-anchor="middle" >-50</text>
<line x1="318.80" y1="342.68" x2="321.10" y2="342.68" stroke="#7a8796" stroke-width="0.7"/>
<text class="tk" x="316.70" y="344.88" text-anchor="end" >-50</text>
<line x1="395.70" y1="378.60" x2="395.70" y2="380.90" stroke="#7a8796" stroke-width="0.7"/>
<text class="tk" x="395.70" y="390.30" text-anchor="middle" >0</text>
<line x1="318.80" y1="306.75" x2="321.10" y2="306.75" stroke="#7a8796" stroke-width="0.7"/>
<text class="tk" x="316.70" y="308.95" text-anchor="end" >0</text>
<line x1="433.00" y1="378.60" x2="433.00" y2="380.90" stroke="#7a8796" stroke-width="0.7"/>
<text class="tk" x="433.00" y="390.30" text-anchor="middle" >50</text>
<line x1="318.80" y1="270.82" x2="321.10" y2="270.82" stroke="#7a8796" stroke-width="0.7"/>
<text class="tk" x="316.70" y="273.02" text-anchor="end" >50</text>
<line x1="470.30" y1="378.60" x2="470.30" y2="380.90" stroke="#7a8796" stroke-width="0.7"/>
<text class="tk" x="470.30" y="390.30" text-anchor="middle" >100</text>
<line x1="318.80" y1="234.90" x2="321.10" y2="234.90" stroke="#7a8796" stroke-width="0.7"/>
<text class="tk" x="316.70" y="237.10" text-anchor="end" >100</text>
<line x1="339.75" y1="378.60" x2="339.75" y2="379.90" stroke="#7a8796" stroke-width="0.6"/>
<line x1="319.80" y1="360.64" x2="321.10" y2="360.64" stroke="#7a8796" stroke-width="0.6"/>
<line x1="377.05" y1="378.60" x2="377.05" y2="379.90" stroke="#7a8796" stroke-width="0.6"/>
<line x1="319.80" y1="324.71" x2="321.10" y2="324.71" stroke="#7a8796" stroke-width="0.6"/>
<line x1="414.35" y1="378.60" x2="414.35" y2="379.90" stroke="#7a8796" stroke-width="0.6"/>
<line x1="319.80" y1="288.79" x2="321.10" y2="288.79" stroke="#7a8796" stroke-width="0.6"/>
<line x1="451.65" y1="378.60" x2="451.65" y2="379.90" stroke="#7a8796" stroke-width="0.6"/>
<line x1="319.80" y1="252.86" x2="321.10" y2="252.86" stroke="#7a8796" stroke-width="0.6"/>
<text class="ax" x="377.60" y="407.80" textLength="36.20" lengthAdjust="spacingAndGlyphs" >x (nm)</text>
<text class="ax" transform="translate(294.00,324.95) rotate(-90)" textLength="36.2" lengthAdjust="spacingAndGlyphs">z (nm)</text>
<text class="pl" x="278.00" y="237.60" textLength="19.40" lengthAdjust="spacingAndGlyphs" >(d)</text>
<text><tspan class="tt" x="344.00" y="228.20" textLength="26.20" lengthAdjust="spacingAndGlyphs" >SERS</tspan> <tspan class="tt" x="375.10" y="228.20" textLength="10.90" lengthAdjust="spacingAndGlyphs" >EF</tspan> <tspan class="tt" x="391.70" y="228.20" textLength="5.80" lengthAdjust="spacingAndGlyphs" >=</tspan> <tspan class="tm" x="403.40" y="228.20" textLength="14.40" lengthAdjust="spacingAndGlyphs" >7.9</tspan> <tspan class="tm" x="421.60" y="229.80" textLength="9.00" lengthAdjust="spacingAndGlyphs" style="font-size:15.5px">×</tspan> <tspan class="tm" x="433.70" y="228.20" textLength="10.30" lengthAdjust="spacingAndGlyphs" >10</tspan><tspan class="ts" x="445.20" y="223.70" textLength="4.30" lengthAdjust="spacingAndGlyphs" >4</tspan></text>
<rect x="493.10" y="235.00" width="21.30" height="143.80" fill="url(#cbg)" stroke="#666" stroke-width="0.6"/>
<text class="in" x="488.35" y="229.10" textLength="31.00" lengthAdjust="spacingAndGlyphs" >Intensity</text>
<line x1="514.40" y1="240.75" x2="516.70" y2="240.75" stroke="#7a8796" stroke-width="0.7"/>
<text class="tk" x="519.80" y="243.45" >600</text>
<line x1="514.40" y1="263.76" x2="516.70" y2="263.76" stroke="#7a8796" stroke-width="0.7"/>
<text class="tk" x="519.80" y="266.46" >500</text>
<line x1="514.40" y1="286.77" x2="516.70" y2="286.77" stroke="#7a8796" stroke-width="0.7"/>
<text class="tk" x="519.80" y="289.47" >400</text>
<line x1="514.40" y1="309.78" x2="516.70" y2="309.78" stroke="#7a8796" stroke-width="0.7"/>
<text class="tk" x="519.80" y="312.48" >300</text>
<line x1="514.40" y1="332.78" x2="516.70" y2="332.78" stroke="#7a8796" stroke-width="0.7"/>
<text class="tk" x="519.80" y="335.48" >200</text>
<line x1="514.40" y1="355.79" x2="516.70" y2="355.79" stroke="#7a8796" stroke-width="0.7"/>
<text class="tk" x="519.80" y="358.49" >100</text>
<line x1="514.40" y1="378.80" x2="516.70" y2="378.80" stroke="#7a8796" stroke-width="0.7"/>
<text class="tk" x="519.80" y="381.50" >0</text>
</svg></body></html>
